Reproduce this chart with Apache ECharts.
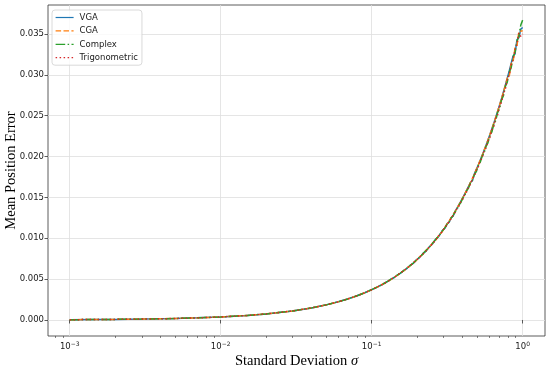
<!DOCTYPE html>
<html>
<head>
<meta charset="utf-8">
<script src="https://cdn.jsdelivr.net/npm/echarts@6/dist/echarts.min.js"></script>
<style>
html,body{margin:0;padding:0;background:#fff;}
#chart{width:550px;height:368px;}
</style>
</head>
<body>
<div id="chart"></div>
<script>
const sigma = [0.001,0.0015,0.002,0.003,0.004,0.005,0.007,0.01,0.015,0.02,0.03,0.04,0.05,0.06,0.07,0.08,0.09,
  0.100,0.105,0.110,0.116,0.122,0.128,0.134,0.141,0.148,0.155,0.163,0.171,0.180,0.189,0.198,0.208,0.218,0.229,0.241,0.253,0.265,0.279,0.293,0.307,
  0.316,0.326,0.335,0.346,0.356,0.367,0.378,0.389,0.401,0.413,0.425,0.438,0.451,0.465,0.479,0.493,0.508,0.523,0.539,0.555,0.572,0.589,0.607,0.625,
  0.644,0.663,0.683,0.703,0.724,0.746,0.768,0.791,0.815,0.839,0.864,0.890,0.917,0.944,0.972,1.000];

const vgaError = [0.000037,0.000056,0.000074,0.000111,0.000148,0.000186,0.000259,0.00037,0.000555,0.00074,0.00111,0.00148,0.001852,0.002222,0.00259,0.002962,0.003331,
  0.00371,0.00387,0.00409,0.00428,0.00453,0.00472,0.00499,0.00520,0.00551,0.00571,0.00606,0.00630,0.00669,0.00695,0.00737,0.00766,0.00812,0.00843,0.00897,0.00931,0.00987,0.01026,0.01091,0.01129,
  0.01177,0.01198,0.01249,0.01271,0.01327,0.01348,0.01410,0.01428,0.01496,0.01516,0.01586,0.01608,0.01683,0.01706,0.01788,0.01808,0.01897,0.01917,0.02013,0.02034,0.02137,0.02157,0.02269,0.02289,
  0.02408,0.02427,0.02554,0.02573,0.02708,0.02730,0.02873,0.02895,0.03049,0.03070,0.03232,0.03257,0.03430,0.03455,0.03560,0.03580];

const cgaError = [0.000036,0.000055,0.000075,0.000111,0.000149,0.000185,0.00026,0.000371,0.000556,0.000741,0.001112,0.001479,0.001848,0.002219,0.002594,0.002958,0.003335,
  0.00369,0.00391,0.00406,0.00431,0.00449,0.00476,0.00494,0.00525,0.00546,0.00577,0.00600,0.00636,0.00663,0.00702,0.00730,0.00774,0.00803,0.00852,0.00888,0.00941,0.00976,0.01038,0.01079,0.01143,
  0.01162,0.01214,0.01232,0.01289,0.01308,0.01367,0.01389,0.01450,0.01473,0.01540,0.01561,0.01634,0.01656,0.01735,0.01757,0.01840,0.01863,0.01953,0.01976,0.02073,0.02096,0.02200,0.02224,0.02336,
  0.02359,0.02478,0.02501,0.02628,0.02651,0.02789,0.02812,0.02958,0.02984,0.03137,0.03163,0.03328,0.03356,0.03530,0.03520,0.03540];

const complexError = [0.000037,0.000056,0.000074,0.000112,0.000148,0.000186,0.000259,0.000369,0.000555,0.000739,0.001109,0.001482,0.001851,0.002224,0.002588,0.002963,0.003328,
  0.00372,0.00390,0.00405,0.00430,0.00452,0.00475,0.00497,0.00521,0.00550,0.00575,0.00604,0.00634,0.00668,0.00697,0.00736,0.00768,0.00809,0.00849,0.00890,0.00939,0.00984,0.01030,0.01088,0.01132,
  0.01174,0.01201,0.01246,0.01276,0.01322,0.01353,0.01405,0.01434,0.01491,0.01521,0.01580,0.01614,0.01677,0.01713,0.01781,0.01815,0.01889,0.01926,0.02004,0.02044,0.02127,0.02168,0.02258,0.02301,
  0.02396,0.02440,0.02541,0.02587,0.02694,0.02745,0.02858,0.02911,0.03033,0.03087,0.03215,0.03275,0.03412,0.03474,0.03610,0.03670];

const trigError = [0.000037,0.000056,0.000075,0.00011,0.000148,0.000186,0.000259,0.00037,0.000554,0.00074,0.001111,0.00148,0.00185,0.00222,0.002592,0.00296,0.003333,
  0.00370,0.00388,0.00408,0.00427,0.00452,0.00473,0.00498,0.00523,0.00547,0.00576,0.00601,0.00635,0.00664,0.00701,0.00731,0.00772,0.00805,0.00845,0.00894,0.00933,0.00979,0.01035,0.01081,0.01139,
  0.01165,0.01210,0.01236,0.01285,0.01312,0.01363,0.01393,0.01446,0.01478,0.01535,0.01566,0.01629,0.01661,0.01729,0.01764,0.01833,0.01871,0.01944,0.01985,0.02064,0.02106,0.02190,0.02235,0.02325,
  0.02371,0.02466,0.02514,0.02615,0.02665,0.02774,0.02827,0.02943,0.02999,0.03121,0.03180,0.03311,0.03375,0.03512,0.03470,0.03500];

const seriesNames = ['VGA','CGA','Complex','Trigonometric'];
const xTickValues = [0.001,0.01,0.1,1];
const xMinorTickValues = [0.0008,0.0009,0.002,0.003,0.004,0.005,0.006,0.007,0.008,0.009,0.02,0.03,0.04,0.05,0.06,0.07,0.08,0.09,0.2,0.3,0.4,0.5,0.6,0.7,0.8,0.9];
const yTickValues = [0,0.005,0.01,0.015,0.02,0.025,0.03,0.035];

const colors = ['#1f77b4','#ff7f0e','#2ca02c','#d62728'];
const dashes = ['solid',[5.5,2.4],[9.6,2.4,1.5,2.4],[1.5,2.5]];
const allData = [vgaError,cgaError,complexError,trigError];

const tickFont = {fontFamily:'DejaVu Sans', fontSize:8.5, color:'#1a1a1a'};
const gridColor = '#dedede';
const xMin = 0.000718, xMax = 1.406, yMin = -0.00196, yMax = 0.03855;

const chart = echarts.init(document.getElementById('chart'), null, {renderer:'canvas'});
chart.setOption({
  animation:false,
  backgroundColor:'#fff',
  grid:{left:48,right:5,top:5,bottom:32,containLabel:false,outerBoundsMode:'none',show:true,borderColor:'#333',borderWidth:0.8,backgroundColor:'transparent'},
  legend:{
    left:52, top:10, orient:'vertical', itemWidth:18, itemHeight:8, itemGap:4.4,
    padding:[3,4,3,3], borderColor:'#d0d0d0', borderWidth:0.8, borderRadius:3,
    backgroundColor:'rgba(255,255,255,0.8)',
    itemStyle:{opacity:0},
    lineStyle:{width:1.2},
    textStyle:{fontFamily:'DejaVu Sans', fontSize:8.5, color:'#1a1a1a', padding:[0,0,0,1]},
    data:seriesNames
  },
  xAxis:[{
    type:'log', logBase:10, min:xMin, max:xMax,
    name:'Standard Deviation {i|σ}', nameLocation:'middle', nameGap:18, nameMoveOverlap:false,
    nameTextStyle:{fontFamily:'Liberation Serif', fontSize:14.5, color:'#000', verticalAlign:'top',
      rich:{i:{fontFamily:'Liberation Serif', fontStyle:'italic', fontSize:14.5, color:'#000', verticalAlign:'top'}}},
    axisLine:{show:false},
    axisTick:{show:true, length:3.5, lineStyle:{color:'#333',width:0.8}, customValues:xTickValues},
    axisLabel:{show:true, margin:5, customValues:xTickValues, ...tickFont,
      formatter:(v)=>'10{s|' + String(Math.round(Math.log10(v))).replace('-','\u2212') + '}',
      rich:{s:{fontFamily:'DejaVu Sans', fontSize:6, verticalAlign:'bottom', padding:[0,0,5,0], color:'#1a1a1a'}}},
    splitLine:{show:true, lineStyle:{color:gridColor, width:0.8}},
    minorTick:{show:false}, minorSplitLine:{show:false}
  },{
    type:'log', logBase:10, min:xMin, max:xMax, position:'bottom',
    axisLine:{show:false},
    axisTick:{show:true, length:2, lineStyle:{color:'#333',width:0.6}, customValues:xMinorTickValues},
    axisLabel:{show:false}, splitLine:{show:false}
  }],
  yAxis:{
    type:'value', min:yMin, max:yMax,
    name:'Mean Position Error', nameLocation:'middle', nameGap:29, nameMoveOverlap:false,
    nameTextStyle:{fontFamily:'Liberation Serif', fontSize:14.5, color:'#000'},
    axisLine:{show:false},
    axisTick:{show:true, length:3.5, lineStyle:{color:'#333',width:0.8}, customValues:yTickValues},
    axisLabel:{show:true, margin:4, customValues:yTickValues, ...tickFont, formatter:(v)=>v.toFixed(3)},
    splitLine:{show:true, lineStyle:{color:gridColor, width:0.8}}
  },
  series: seriesNames.map((name,k)=>({
    name, type:'line', xAxisIndex:0, symbol:'none', showSymbol:false, z:2+k,
    data: sigma.map((s,i)=>[s, allData[k][i]]),
    lineStyle:{color:colors[k], width:1.5, type:dashes[k]},
    itemStyle:{color:colors[k]}
  }))
});
</script>
</body>
</html>
